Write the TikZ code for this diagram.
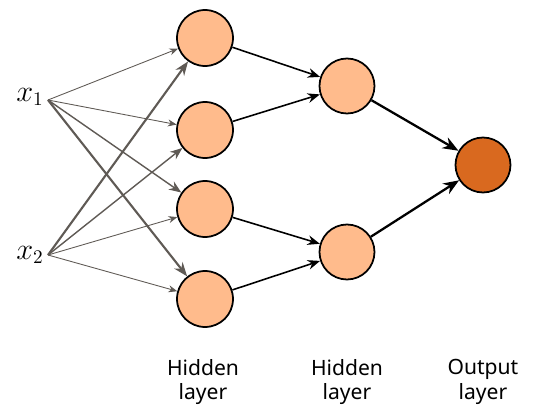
\documentclass[tikz,border=0pt]{standalone}
\usepackage{fontspec}
\setsansfont{Noto Sans}
\usepackage{xcolor}
\usepackage{tikz}
\usetikzlibrary{arrows.meta}

\definecolor{unitfill}{HTML}{FFBB8C}
\definecolor{outfill}{HTML}{D9691F}
\definecolor{wgray}{HTML}{5F5A55}

\tikzset{
  unit/.style={circle, draw=black, line width=1pt, fill=unitfill, minimum size=1.12cm, inner sep=0pt},
  thinw/.style={-{Stealth[length=5pt,width=4pt]}, draw=wgray, line width=0.5pt},
  midw/.style={-{Stealth[length=7pt,width=5.5pt]}, draw=wgray, line width=0.8pt},
  thickw/.style={-{Stealth[length=8pt,width=6pt]}, draw=wgray, line width=1.2pt},
  hidw/.style={-{Stealth[length=7pt,width=5.5pt]}, line width=0.9pt},
  outw/.style={-{Stealth[length=9pt,width=7pt]}, line width=1.3pt},
  layerlabel/.style={font=\sffamily\fontsize{12}{14}\selectfont, align=center}
}

\begin{document}
\begin{tikzpicture}[x=0.02cm, y=-0.02cm]
\useasboundingbox (0,0) rectangle (539,419);

% inputs
\node[font=\fontsize{16}{19}\selectfont] (x1) at (30,97) {$x_1$};
\node[font=\fontsize{16}{19}\selectfont] (x2) at (30,255) {$x_2$};
\coordinate (x1o) at (48,100);
\coordinate (x2o) at (48,255);

% first hidden layer
\node[unit] (h1) at (205,38) {};
\node[unit] (h2) at (205,130) {};
\node[unit] (h3) at (205,209) {};
\node[unit] (h4) at (205,299) {};

% second hidden layer
\node[unit, minimum size=1.1cm] (g1) at (347,86) {};
\node[unit, minimum size=1.1cm] (g2) at (347,252) {};

% output
\node[unit, minimum size=1.1cm, fill=outfill] (o) at (483,165) {};

% weights from the inputs
\draw[thinw] (x1o) -- (h1);
\draw[thinw] (x1o) -- (h2);
\draw[midw] (x1o) -- (h3);
\draw[thickw] (x1o) -- (h4);
\draw[thickw] (x2o) -- (h1);
\draw[midw] (x2o) -- (h2);
\draw[thinw] (x2o) -- (h3);
\draw[thinw] (x2o) -- (h4);

% hidden to hidden
\draw[hidw] (h1) -- (g1);
\draw[hidw] (h2) -- (g1);
\draw[hidw] (h3) -- (g2);
\draw[hidw] (h4) -- (g2);

% hidden to output
\draw[outw] (g1) -- (o);
\draw[outw] (g2) -- (o);

% layer names
\node[layerlabel] (l1) at (203,382) {Hidden\\layer};
\node[layerlabel] (l2) at (347,382) {Hidden\\layer};
\node[layerlabel] (l3) at (483,382) {Output\\layer};
\end{tikzpicture}
\end{document}
